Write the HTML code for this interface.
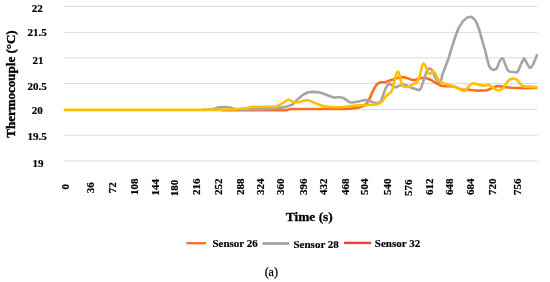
<!DOCTYPE html>
<html><head><meta charset="utf-8"><title>Thermocouple chart</title>
<style>
html,body{margin:0;padding:0;background:#fff;}
svg{display:block}
text{font-family:"Liberation Serif",serif;fill:#000}
.b{font-weight:bold;stroke:#000;stroke-width:0.3px}
.s{stroke-width:0.18px}
</style></head><body>
<svg width="550" height="282" viewBox="0 0 550 282">
<rect width="550" height="282" fill="#fff"/>
<g stroke="#dcdcdc" stroke-width="1" fill="none">
<line x1="63.8" y1="6.4" x2="537.6" y2="6.4"/>
<line x1="63.8" y1="32.4" x2="537.6" y2="32.4"/>
<line x1="63.8" y1="57.9" x2="537.6" y2="57.9"/>
<line x1="63.8" y1="83.5" x2="537.6" y2="83.5"/>
<line x1="63.8" y1="109.6" x2="537.6" y2="109.6"/>
<line x1="63.8" y1="135.2" x2="537.6" y2="135.2"/>
<line x1="63.8" y1="161" x2="537.6" y2="161"/>
</g>
<g fill="none" stroke-width="2.6" stroke-linejoin="round" stroke-linecap="butt">
<polyline stroke="#ff6d1f" points="221.0,109.9 224.0,110.1 287.0,110.1 290.5,109.0 345.5,109.0 352.5,108.4 358.5,107.6 362.0,106.6 364.5,105.3 366.4,103.8 368.0,101.6 369.7,98.4 371.3,94.6 373.0,90.8 375.0,87.0 377.6,83.6 380.9,82.2 385.4,82.3 389.9,80.4 392.8,79.5 396.7,78.3 399.5,77.4 401.8,77.1 404.0,77.2 406.9,78.0 408.5,78.6 411.0,79.5 413.6,80.2 416.0,79.6 418.7,78.6 421.5,78.0 423.8,77.9 426.5,78.3 428.9,79.0 431.5,80.2 434.0,81.8 436.5,83.3 439.1,84.7 441.5,85.7 444.2,86.3 447.0,86.2 449.4,86.0 452.5,86.4 455.5,86.9 458.5,88.4 461.5,89.7 468.7,89.7 473.5,90.3 477.8,90.6 482.5,90.5 486.9,90.2 489.5,89.2 492.3,87.9 495.0,86.8 497.8,86.1 501.5,86.4 505.0,87.0 508.5,87.5 512.3,87.8 517.5,88.0 523.2,88.1 530.5,88.0 537.3,87.9"/>
<polyline stroke="#a5a5a5" points="203.0,109.9 206.0,109.9 208.0,109.4 212.0,109.1 215.5,108.6 217.5,107.6 220.0,107.2 224.0,107.1 228.0,107.2 230.5,107.6 233.0,108.4 236.0,109.1 240.0,109.5 245.5,109.6 255.5,109.0 262.5,109.2 270.5,108.7 277.5,108.1 285.0,107.0 292.3,104.8 296.0,101.0 299.5,97.6 303.5,94.5 308.3,92.3 312.5,91.9 317.0,92.1 321.5,93.0 325.0,94.3 328.7,95.7 331.5,96.8 334.5,97.6 337.5,97.3 340.3,97.2 343.2,97.9 345.5,99.3 347.5,100.8 349.5,102.3 352.5,102.5 355.8,102.0 360.5,101.0 364.8,99.9 367.5,100.2 369.9,101.0 373.5,102.4 377.5,103.3 379.5,102.6 381.4,100.1 383.3,94.6 385.2,89.2 387.5,85.1 389.7,83.5 391.9,85.1 394.1,87.3 396.5,87.1 399.5,85.6 402.0,85.1 404.4,84.7 407.0,85.6 409.5,86.6 411.0,87.8 414.9,88.8 417.5,89.8 419.3,90.1 421.0,88.1 422.5,83.7 424.5,77.6 426.4,72.2 428.0,69.4 429.6,68.4 432.1,70.3 433.5,73.4 434.7,76.7 436.3,79.6 437.9,81.8 439.3,82.4 440.4,81.4 441.5,79.2 442.0,75.6 444.5,69.0 446.5,63.8 448.6,58.2 452.0,46.8 455.9,34.9 458.6,28.1 462.6,21.6 467.0,17.6 471.4,16.7 474.6,19.4 476.9,23.6 479.1,29.3 483.4,44.7 485.1,50.1 487.3,59.7 489.1,66.1 490.8,68.6 492.7,69.7 494.6,69.7 496.4,68.8 497.8,66.1 499.1,62.4 500.7,59.4 502.2,58.2 503.4,59.4 504.5,62.4 506.9,68.6 508.5,71.0 510.5,71.7 513.5,72.0 516.5,72.5 518.0,71.3 519.4,67.9 522.7,60.6 524.2,58.4 526.4,62.4 528.2,65.6 530.0,67.9 531.3,67.4 532.7,65.1 535.5,58.8 537.3,54.2"/>
<polyline stroke="#ffc000" points="63.8,109.9 224.0,109.9 226.0,109.5 236.0,109.3 240.0,108.8 245.0,108.2 248.0,107.9 250.0,107.2 252.0,106.9 262.5,106.8 270.5,106.8 274.5,106.7 277.0,106.2 279.5,105.0 282.5,103.3 285.5,101.2 288.5,99.6 291.4,100.9 294.4,102.6 297.2,102.1 299.5,102.0 303.0,100.9 306.9,100.2 310.0,100.8 312.7,102.0 316.5,103.6 320.0,105.0 324.5,106.2 328.7,106.9 334.5,107.2 340.3,107.3 345.5,106.7 351.0,106.0 356.0,105.6 362.0,105.2 368.0,104.9 373.0,104.7 377.5,104.2 380.0,103.1 382.6,100.7 384.5,98.1 386.5,95.6 388.5,94.1 390.3,93.0 391.7,91.1 392.9,87.9 393.9,83.6 395.0,79.0 396.2,74.4 397.1,72.2 397.8,71.6 398.5,72.2 399.3,74.4 400.4,79.9 401.7,83.4 402.8,85.8 404.0,86.8 406.0,87.0 408.0,86.9 409.5,86.2 411.0,85.2 413.0,84.2 416.0,83.2 417.8,81.1 419.3,77.3 420.7,72.1 421.9,66.6 422.8,64.4 423.7,63.6 424.7,64.3 425.7,66.1 427.0,70.1 428.3,72.8 429.5,73.6 430.8,73.5 432.1,72.4 433.4,71.6 434.7,72.6 435.9,74.8 437.5,77.9 439.1,80.5 441.0,82.1 443.0,83.1 446.0,84.1 449.4,85.0 452.5,85.9 455.5,87.1 457.8,88.3 461.0,89.9 464.1,91.0 466.0,89.9 467.8,87.9 469.5,85.6 471.4,83.9 474.1,83.3 477.0,84.2 479.6,85.1 484.1,85.7 486.5,85.2 488.7,84.8 491.0,86.1 493.2,87.9 496.0,89.6 498.7,90.6 501.0,89.8 503.2,87.9 505.0,85.2 506.9,82.4 508.7,80.4 510.5,79.1 513.2,78.4 515.0,78.8 516.9,79.7 518.7,81.8 520.5,84.2 522.3,85.8 524.1,86.6 527.5,86.6 530.5,86.6 534.5,87.0 537.3,87.4"/>
</g>
<g class="b s" font-size="11" text-anchor="middle">
<text x="37.2" y="11.6">22</text>
<text x="37.2" y="35.7">21.5</text>
<text x="38.1" y="63.8">21</text>
<text x="37.2" y="89.6">20.5</text>
<text x="37.2" y="114.2">20</text>
<text x="37.2" y="140.1">19.5</text>
<text x="38.1" y="167.1">19</text>
</g>
<g class="b s" font-size="11" text-anchor="middle">
<text transform="translate(69.2,186.7) rotate(-90)">0</text>
<text transform="translate(93.7,187.8) rotate(-90)">36</text>
<text transform="translate(116.4,187.8) rotate(-90)">72</text>
<text transform="translate(138.2,186.7) rotate(-90)">108</text>
<text transform="translate(159.1,187.29999999999998) rotate(-90)">144</text>
<text transform="translate(178.0,188.0) rotate(-90)">180</text>
<text transform="translate(200.1,186.7) rotate(-90)">216</text>
<text transform="translate(222.3,186.7) rotate(-90)">252</text>
<text transform="translate(243.5,186.7) rotate(-90)">288</text>
<text transform="translate(264.4,186.7) rotate(-90)">324</text>
<text transform="translate(283.5,186.7) rotate(-90)">360</text>
<text transform="translate(306.5,186.7) rotate(-90)">396</text>
<text transform="translate(326.8,186.7) rotate(-90)">432</text>
<text transform="translate(348.5,186.7) rotate(-90)">468</text>
<text transform="translate(368.4,186.7) rotate(-90)">504</text>
<text transform="translate(390.5,186.7) rotate(-90)">540</text>
<text transform="translate(411.5,187.7) rotate(-90)">576</text>
<text transform="translate(432.8,186.7) rotate(-90)">612</text>
<text transform="translate(453.1,186.7) rotate(-90)">648</text>
<text transform="translate(474.2,186.7) rotate(-90)">684</text>
<text transform="translate(495.8,186.7) rotate(-90)">720</text>
<text transform="translate(521.0,186.7) rotate(-90)">756</text>
</g>
<text class="b" font-size="13" stroke-width="0.4" style="stroke-width:0.4px" text-anchor="middle" transform="translate(14.7,84) rotate(-90)">Thermocouple (°C)</text>
<text class="b" font-size="13.4" text-anchor="middle" x="309.3" y="220.7">Time (s)</text>
<g stroke-width="2.1" stroke-linecap="butt">
<line x1="186.4" y1="243.2" x2="206" y2="243.2" stroke="#ff6d1f" stroke-width="2.3"/>
<line x1="262.4" y1="243.5" x2="289.4" y2="243.5" stroke="#a3a3a3" stroke-width="2.7"/>
<line x1="344" y1="242.9" x2="371.2" y2="242.9" stroke="#ff3b3b" stroke-width="2.4"/>
</g>
<g class="b s" font-size="11">
<text x="212.4" y="247">Sensor 26</text>
<text x="293.5" y="247.7">Sensor 28</text>
<text x="374.8" y="246.5">Sensor 32</text>
</g>
<text font-size="12" text-anchor="middle" x="271.3" y="276.2" stroke="#000" stroke-width="0.25">(a)</text>
</svg></body></html>
